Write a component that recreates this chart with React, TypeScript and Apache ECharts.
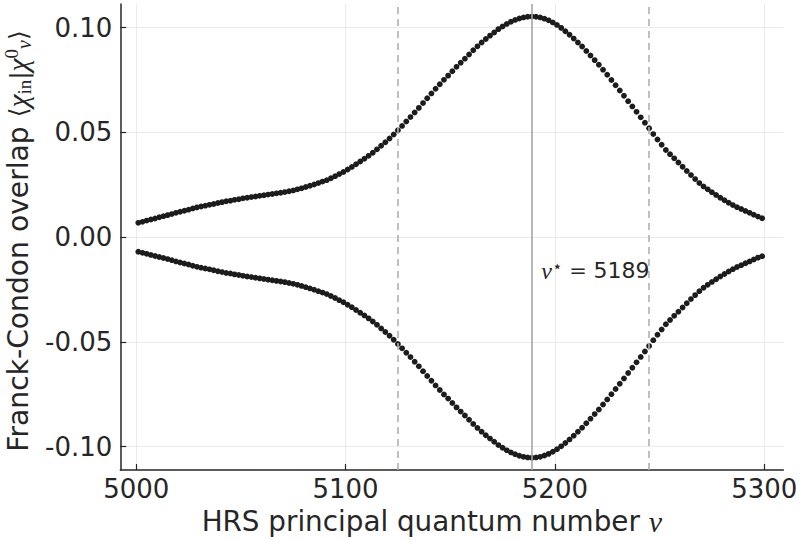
import React, { useEffect, useRef } from "react";
import * as echarts from "echarts";

// HRS principal quantum number (sampling grid)
const NU: number[] = [
  5001, 5003, 5005, 5007, 5009, 5011, 5013, 5015, 5017, 5019,
  5021, 5023, 5025, 5027, 5029, 5031, 5033, 5035, 5037, 5039,
  5041, 5043, 5045, 5047, 5049, 5051, 5053, 5055, 5057, 5059,
  5061, 5063, 5065, 5067, 5069, 5071, 5073, 5075, 5077, 5079,
  5081, 5083, 5085, 5087, 5089, 5091, 5093, 5095, 5097, 5099,
  5101, 5103, 5105, 5107, 5109, 5111, 5113, 5115, 5117, 5119,
  5121, 5123, 5125, 5127, 5129, 5131, 5133, 5135, 5137, 5139,
  5141, 5143, 5145, 5147, 5149, 5151, 5153, 5155, 5157, 5159,
  5161, 5163, 5165, 5167, 5169, 5171, 5173, 5175, 5177, 5179,
  5181, 5183, 5185, 5187, 5189, 5191, 5193, 5195, 5197, 5199,
  5201, 5203, 5205, 5207, 5209, 5211, 5213, 5215, 5217, 5219,
  5221, 5223, 5225, 5227, 5229, 5231, 5233, 5235, 5237, 5239,
  5241, 5243, 5245, 5247, 5249, 5251, 5253, 5255, 5257, 5259,
  5261, 5263, 5265, 5267, 5269, 5271, 5273, 5275, 5277, 5279,
  5281, 5283, 5285, 5287, 5289, 5291, 5293, 5295, 5297, 5299,
];

// Positive branch of the overlap
const UPPER: number[] = [
  0.0068, 0.0073, 0.0079, 0.0084, 0.0089, 0.0095, 0.0100, 0.0105, 0.0110, 0.0116,
  0.0121, 0.0126, 0.0131, 0.0137, 0.0142, 0.0146, 0.0150, 0.0154, 0.0158, 0.0163,
  0.0167, 0.0171, 0.0174, 0.0178, 0.0181, 0.0185, 0.0188, 0.0191, 0.0194, 0.0197,
  0.0200, 0.0203, 0.0206, 0.0209, 0.0212, 0.0215, 0.0219, 0.0223, 0.0228, 0.0233,
  0.0239, 0.0245, 0.0251, 0.0258, 0.0265, 0.0272, 0.0281, 0.0291, 0.0301, 0.0311,
  0.0323, 0.0335, 0.0348, 0.0361, 0.0374, 0.0388, 0.0403, 0.0419, 0.0436, 0.0453,
  0.0471, 0.0490, 0.0510, 0.0531, 0.0552, 0.0573, 0.0595, 0.0617, 0.0640, 0.0663,
  0.0686, 0.0708, 0.0730, 0.0751, 0.0771, 0.0792, 0.0813, 0.0833, 0.0852, 0.0872,
  0.0892, 0.0911, 0.0929, 0.0946, 0.0962, 0.0977, 0.0993, 0.1006, 0.1018, 0.1028,
  0.1037, 0.1044, 0.1049, 0.1052, 0.1053, 0.1052, 0.1049, 0.1043, 0.1035, 0.1025,
  0.1013, 0.0999, 0.0983, 0.0966, 0.0948, 0.0929, 0.0910, 0.0889, 0.0867, 0.0845,
  0.0823, 0.0799, 0.0775, 0.0750, 0.0725, 0.0700, 0.0675, 0.0649, 0.0624, 0.0598,
  0.0572, 0.0546, 0.0520, 0.0492, 0.0466, 0.0441, 0.0416, 0.0396, 0.0376, 0.0356,
  0.0336, 0.0316, 0.0296, 0.0277, 0.0258, 0.0242, 0.0228, 0.0214, 0.0201, 0.0188,
  0.0176, 0.0164, 0.0153, 0.0143, 0.0134, 0.0125, 0.0116, 0.0107, 0.0098, 0.0090,
];

// Negative branch of the overlap
const LOWER: number[] = [
  -0.0070, -0.0075, -0.0080, -0.0085, -0.0090, -0.0095, -0.0100, -0.0105, -0.0110, -0.0116,
  -0.0121, -0.0126, -0.0131, -0.0137, -0.0142, -0.0146, -0.0150, -0.0154, -0.0158, -0.0163,
  -0.0167, -0.0171, -0.0174, -0.0178, -0.0181, -0.0185, -0.0188, -0.0191, -0.0194, -0.0197,
  -0.0200, -0.0203, -0.0206, -0.0209, -0.0212, -0.0215, -0.0219, -0.0223, -0.0228, -0.0233,
  -0.0239, -0.0245, -0.0251, -0.0258, -0.0265, -0.0272, -0.0281, -0.0291, -0.0301, -0.0311,
  -0.0323, -0.0335, -0.0348, -0.0361, -0.0374, -0.0388, -0.0403, -0.0419, -0.0436, -0.0453,
  -0.0471, -0.0490, -0.0510, -0.0531, -0.0552, -0.0573, -0.0595, -0.0617, -0.0640, -0.0663,
  -0.0686, -0.0708, -0.0730, -0.0751, -0.0771, -0.0792, -0.0813, -0.0833, -0.0852, -0.0872,
  -0.0892, -0.0911, -0.0929, -0.0946, -0.0962, -0.0977, -0.0993, -0.1006, -0.1018, -0.1028,
  -0.1037, -0.1044, -0.1049, -0.1052, -0.1053, -0.1052, -0.1049, -0.1043, -0.1035, -0.1025,
  -0.1013, -0.0999, -0.0983, -0.0966, -0.0948, -0.0929, -0.0910, -0.0889, -0.0867, -0.0845,
  -0.0823, -0.0799, -0.0775, -0.0750, -0.0725, -0.0700, -0.0675, -0.0649, -0.0624, -0.0598,
  -0.0572, -0.0546, -0.0520, -0.0492, -0.0466, -0.0441, -0.0416, -0.0396, -0.0376, -0.0356,
  -0.0336, -0.0316, -0.0296, -0.0277, -0.0258, -0.0242, -0.0228, -0.0214, -0.0201, -0.0188,
  -0.0176, -0.0164, -0.0153, -0.0143, -0.0134, -0.0125, -0.0116, -0.0107, -0.0098, -0.0091,
];

const X_TICKS: number[] = [5000, 5100, 5200, 5300];
const Y_TICKS: number[] = [-0.1, -0.05, 0, 0.05, 0.1];
const NU_STAR = 5189;
const DASHED_NU: number[] = [5125, 5245];
const ANNOT_POS: number[] = [5193.5, -0.016];

const SANS = "DejaVu Sans";
const SERIF = "Liberation Serif, DejaVu Serif, serif";
const INK = "#262626";

export default function App() {
  const ref = useRef<HTMLDivElement>(null);

  useEffect(() => {
    if (!ref.current) return;
    const chart = echarts.init(ref.current, null, { renderer: "svg" });

    const upperData = NU.map((x, i) => [x, UPPER[i]]);
    const lowerData = NU.map((x, i) => [x, LOWER[i]]);

    const option: any = {
      animation: false,
      backgroundColor: "#ffffff",
      grid: {
        left: 120.3,
        top: 4,
        width: 663,
        height: 466,
        containLabel: false,
        outerBoundsMode: "none",
      },
      xAxis: {
        type: "value",
        min: 4992.4,
        max: 5309.1,
        name: "HRS principal quantum number {m|ν}",
        nameLocation: "middle",
        nameGap: 36,
        nameTextStyle: {
          fontFamily: SANS,
          fontSize: 27.8,
          color: INK,
          padding: [0, 40, 0, 0],
          rich: {
            m: { fontFamily: SERIF, fontStyle: "italic", fontSize: 30, color: INK },
          },
        },
        axisLine: { show: true, onZero: false, lineStyle: { color: INK, width: 1.5 } },
        axisTick: {
          show: true,
          inside: true,
          length: 6,
          customValues: X_TICKS,
          lineStyle: { color: INK, width: 1.2 },
        },
        axisLabel: {
          customValues: X_TICKS,
          fontFamily: SANS,
          fontSize: 26,
          color: INK,
          margin: 6,
          formatter: (v: number) => String(Math.round(v)),
        },
        splitLine: { show: true, lineStyle: { color: "#ebebeb", width: 1 } },
      },
      yAxis: {
        type: "value",
        min: -0.1112,
        max: 0.1113,
        name:
          "Franck-Condon overlap {a|⟨}{m|χ}{sub|in}{a||}{m|χ}{sup|0}{subm|ν}{a|⟩}",
        nameLocation: "middle",
        nameGap: 86,
        nameTextStyle: {
          fontFamily: SANS,
          fontSize: 28.2,
          color: INK,
          lineHeight: 32,
          padding: [0, 8, 0, 0],
          rich: {
            a: { fontFamily: "DejaVu Serif", fontSize: 25, color: INK, lineHeight: 32 },
            m: { fontFamily: SERIF, fontStyle: "italic", fontSize: 29.5, color: INK, lineHeight: 32 },
            sub: { fontFamily: SERIF, fontSize: 19, color: INK, verticalAlign: "bottom", lineHeight: 20 },
            sup: { fontFamily: SERIF, fontSize: 19, color: INK, verticalAlign: "top", lineHeight: 20 },
            subm: { fontFamily: SERIF, fontStyle: "italic", fontSize: 20, color: INK, verticalAlign: "bottom", lineHeight: 20 },
          },
        },
        axisLine: { show: true, onZero: false, lineStyle: { color: INK, width: 1.5 } },
        axisTick: {
          show: true,
          inside: true,
          length: 6,
          customValues: Y_TICKS,
          lineStyle: { color: INK, width: 1.2 },
        },
        axisLabel: {
          customValues: Y_TICKS,
          fontFamily: SANS,
          fontSize: 26,
          color: INK,
          margin: 8,
          formatter: (v: number) => v.toFixed(2),
        },
        splitLine: { show: true, lineStyle: { color: "#ebebeb", width: 1 } },
      },
      series: [
        {
          type: "line",
          data: [],
          z: 1,
          silent: true,
          markLine: {
            silent: true,
            symbol: ["none", "none"],
            animation: false,
            label: { show: false },
            data: [
              { xAxis: NU_STAR, lineStyle: { color: "#a6a6a6", width: 1.6, type: "solid" } },
              ...DASHED_NU.map((v) => ({
                xAxis: v,
                lineStyle: { color: "#b0b0b0", width: 1.6, type: [7, 5] },
              })),
            ],
          },
          markPoint: {
            silent: true,
            symbol: "circle",
            symbolSize: 0,
            animation: false,
            data: [
              {
                coord: ANNOT_POS,
                label: {
                  show: true,
                  position: "inside",
                  align: "left",
                  verticalAlign: "middle",
                  formatter: `{m|ν}{s|⋆}{e| = }{d|${NU_STAR}}`,
                  rich: {
                    m: { fontFamily: SERIF, fontStyle: "italic", fontSize: 24, color: INK, lineHeight: 26 },
                    s: { fontFamily: "DejaVu Sans", fontSize: 17, color: INK, verticalAlign: "top", lineHeight: 16 },
                    e: { fontFamily: "DejaVu Serif", fontSize: 21, color: INK, lineHeight: 26 },
                    d: { fontFamily: SANS, fontSize: 22, color: INK, lineHeight: 26 },
                  },
                },
              },
            ],
          },
        },
        {
          type: "scatter",
          data: upperData,
          z: 3,
          symbol: "circle",
          symbolSize: 5.8,
          itemStyle: { color: "#1c1c1c", opacity: 1 },
        },
        {
          type: "scatter",
          data: lowerData,
          z: 3,
          symbol: "circle",
          symbolSize: 5.8,
          itemStyle: { color: "#1c1c1c", opacity: 1 },
        },
      ],
    };

    chart.setOption(option);
    return () => {
      chart.dispose();
    };
  }, []);

  return (
    <div
      ref={ref}
      style={{
        position: "fixed",
        left: 0,
        top: 0,
        width: 800,
        height: 540,
        background: "#ffffff",
      }}
    />
  );
}
